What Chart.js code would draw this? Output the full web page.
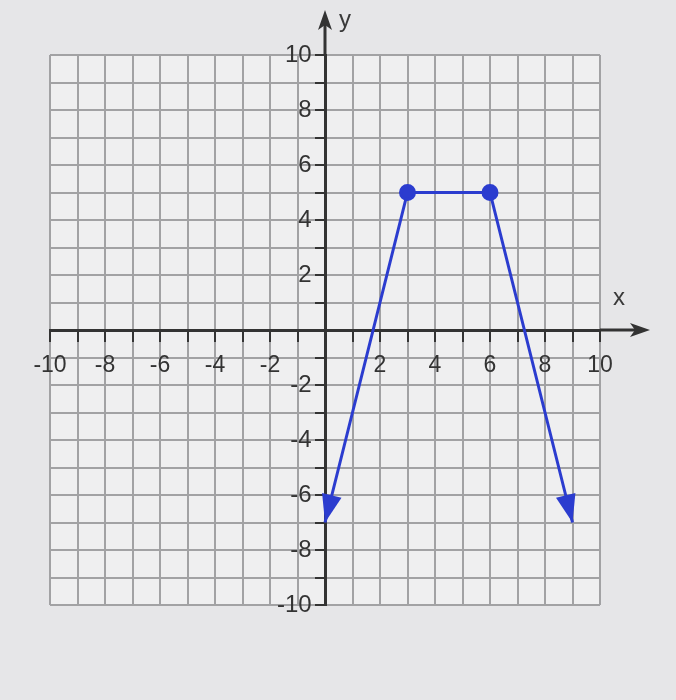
<!DOCTYPE html>
<html>
<head>
<meta charset="utf-8">
<script src="https://cdn.jsdelivr.net/npm/chart.js@4.4.0/dist/chart.umd.min.js"></script>
<style>
  html, body { margin: 0; padding: 0; background: #e6e6e8; }
  #wrap { width: 676px; height: 700px; }
</style>
</head>
<body>
<div id="wrap"><canvas id="graph" width="676" height="700"></canvas></div>
<script>
// piecewise graph: arrow ends at the first and last points
const xValues = [0, 3, 6, 9];
const yValues = [-7, 5, 5, -7];
const dotRadius = [0, 7, 7, 0];
const labelledTicks = [-10, -8, -6, -4, -2, 2, 4, 6, 8, 10];

const lineBlue = '#2b3ccf';
const axisDark = '#333333';

const points = xValues.map((x, i) => ({ x: x, y: yValues[i] }));

function tickText(value) {
  return labelledTicks.includes(value) ? String(value) : '';
}

// centred y axis ignores ticks.padding, so push the text off the axis
function yTickText(value) {
  const t = tickText(value);
  return t ? t + '  ' : '';
}

const paperPlugin = {
  id: 'paper',
  beforeDraw(chart) {
    const ctx = chart.ctx;
    const a = chart.chartArea;
    ctx.save();
    ctx.fillStyle = '#e6e6e8';
    ctx.fillRect(0, 0, chart.width, chart.height);
    ctx.fillStyle = '#efeff0';
    ctx.fillRect(a.left, a.top, a.right - a.left, a.bottom - a.top);
    ctx.restore();
  },
  afterDraw(chart) {
    const ctx = chart.ctx;
    const xs = chart.scales.x;
    const ys = chart.scales.y;
    const x0 = xs.getPixelForValue(0);
    const y0 = ys.getPixelForValue(0);
    ctx.save();
    ctx.strokeStyle = axisDark;
    ctx.fillStyle = axisDark;
    ctx.lineWidth = 3;
    // y axis extension + arrow
    ctx.beginPath();
    ctx.moveTo(x0, chart.chartArea.top);
    ctx.lineTo(x0, 22);
    ctx.stroke();
    ctx.beginPath();
    ctx.moveTo(x0, 10);
    ctx.lineTo(x0 - 7, 30);
    ctx.lineTo(x0, 25);
    ctx.lineTo(x0 + 7, 30);
    ctx.closePath();
    ctx.fill();
    // x axis extension + arrow
    ctx.beginPath();
    ctx.moveTo(chart.chartArea.right, y0);
    ctx.lineTo(640, y0);
    ctx.stroke();
    ctx.beginPath();
    ctx.moveTo(650, y0);
    ctx.lineTo(630, y0 - 7);
    ctx.lineTo(635, y0);
    ctx.lineTo(630, y0 + 7);
    ctx.closePath();
    ctx.fill();
    ctx.font = '24px "Liberation Sans", Arial, sans-serif';
    ctx.fillStyle = '#3a3a3a';
    ctx.textBaseline = 'middle';
    ctx.fillText('y', x0 + 14, 20);
    ctx.fillText('x', 613, y0 - 32);
    ctx.restore();
  }
};

const arrowPlugin = {
  id: 'lineArrows',
  afterDatasetsDraw(chart) {
    const pts = chart.getDatasetMeta(0).data;
    if (pts.length < 2) return;
    const ctx = chart.ctx;
    const ends = [[pts[0], pts[1]], [pts[pts.length - 1], pts[pts.length - 2]]];
    ctx.save();
    ctx.fillStyle = lineBlue;
    ends.forEach(([tip, prev]) => {
      const ang = Math.atan2(tip.y - prev.y, tip.x - prev.x);
      const len = 28, half = 10;
      const bx = tip.x - Math.cos(ang) * len;
      const by = tip.y - Math.sin(ang) * len;
      ctx.beginPath();
      ctx.moveTo(tip.x, tip.y);
      ctx.lineTo(bx - Math.sin(ang) * half, by + Math.cos(ang) * half);
      ctx.lineTo(bx + Math.sin(ang) * half, by - Math.cos(ang) * half);
      ctx.closePath();
      ctx.fill();
    });
    ctx.restore();
  }
};

new Chart(document.getElementById('graph'), {
  type: 'scatter',
  data: {
    datasets: [{
      data: points,
      showLine: true,
      borderColor: lineBlue,
      backgroundColor: lineBlue,
      borderWidth: 3,
      pointRadius: dotRadius,
      pointHoverRadius: dotRadius,
      tension: 0
    }]
  },
  options: {
    responsive: false,
    animation: false,
    layout: { padding: { left: 50, right: 76, top: 55, bottom: 95 } },
    plugins: { legend: { display: false }, tooltip: { enabled: false } },
    scales: {
      x: {
        type: 'linear',
        position: { y: 0 },
        min: -10,
        max: 10,
        ticks: {
          stepSize: 1,
          autoSkip: false,
          maxRotation: 0,
          padding: 12,
          color: '#333',
          font: { family: '"Liberation Sans", Arial, sans-serif', size: 23 },
          callback: tickText
        },
        grid: { color: '#a2a2a4', lineWidth: 2, tickColor: axisDark, tickLength: 10, tickWidth: 2 },
        border: { color: axisDark, width: 3 }
      },
      y: {
        type: 'linear',
        position: { x: 0 },
        min: -10,
        max: 10,
        ticks: {
          stepSize: 1,
          autoSkip: false,
          color: '#333',
          font: { family: '"Liberation Sans", Arial, sans-serif', size: 24 },
          callback: yTickText
        },
        grid: { color: '#a2a2a4', lineWidth: 2, tickColor: axisDark, tickLength: 9, tickWidth: 2 },
        border: { color: axisDark, width: 3 }
      }
    }
  },
  plugins: [paperPlugin, arrowPlugin]
});
</script>
</body>
</html>
